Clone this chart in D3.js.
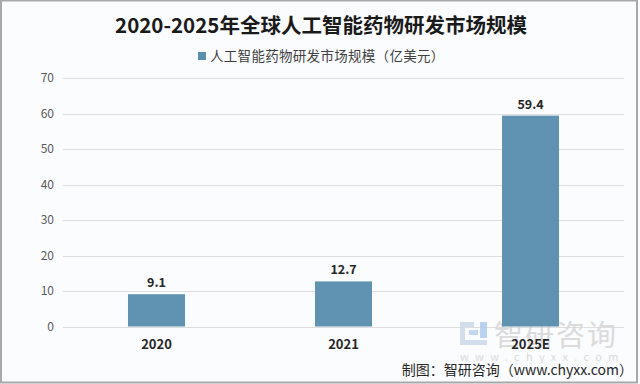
<!DOCTYPE html>
<html>
<head>
<meta charset="utf-8">
<script src="https://cdn.jsdelivr.net/npm/d3@7"></script>
<style>
html,body{margin:0;padding:0;background:#fff;}
svg{display:block;}
text{font-family:"Noto Sans CJK SC","Noto Sans",sans-serif;}
</style>
</head>
<body>
<svg id="chart" width="640" height="384"></svg>
<script>
const categories = ["2020", "2021", "2025E"];
const values = [9.1, 12.7, 59.4];
const yTicks = [0, 10, 20, 30, 40, 50, 60, 70];
const title = "2020-2025年全球人工智能药物研发市场规模";
const seriesName = "人工智能药物研发市场规模（亿美元）";
const source = "制图：智研咨询（www.chyxx.com）";

const svg = d3.select("#chart");
const W = 640, H = 384;
svg.append("rect").attr("x",0).attr("y",0).attr("width",W).attr("height",H).attr("fill","#fbfcfe");

const x = d3.scaleBand().domain(categories).range([63, 624]).paddingInner(0.695).paddingOuter(0.3475);
const y = d3.scaleLinear().domain([0, 70]).range([326.5, 78]);

// gridlines
svg.append("g").selectAll("line").data(yTicks).join("line")
  .attr("x1", 63).attr("x2", 624)
  .attr("y1", d => Math.round(y(d)) + 0.5).attr("y2", d => Math.round(y(d)) + 0.5)
  .attr("stroke", "#dedede").attr("stroke-width", 1);

// y axis labels
const yAxis = d3.axisLeft(y).tickValues(yTicks).tickSize(0).tickPadding(0);
const ya = svg.append("g").attr("transform", "translate(54,0)").call(yAxis);
ya.select(".domain").remove();
ya.selectAll("text").attr("font-size", 12).attr("fill", "#595959")
  .attr("font-family", '"Open Sans","Noto Sans",sans-serif');

// watermark (behind bars)
const wm = svg.append("g").attr("opacity", 0.85);
const lx = 460, ly = 322;
wm.append("rect").attr("x",lx).attr("y",ly).attr("width",14).attr("height",5).attr("fill","#ccd9e8");
wm.append("rect").attr("x",lx).attr("y",ly).attr("width",5).attr("height",23).attr("fill","#ccd9e8");
wm.append("rect").attr("x",lx+9).attr("y",ly+8).attr("width",9).attr("height",5).attr("fill","#b9d1ec");
wm.append("rect").attr("x",lx).attr("y",ly+18).attr("width",27).attr("height",5).attr("fill","#ccd9e8");
wm.append("rect").attr("x",lx+20).attr("y",ly).attr("width",7).attr("height",16).attr("fill","#aecbec");
wm.append("text").attr("x",494).attr("y",346).attr("font-size",29).attr("fill","#d6d6d6")
  .attr("letter-spacing", 2).text("智研咨询");
wm.append("text").attr("x",460).attr("y",361).attr("font-size",11).attr("fill","#d6d6d6")
  .attr("letter-spacing", 6.3).text("www.chyxx.com");

// bars
svg.append("g").selectAll("rect").data(values).join("rect")
  .attr("x", (d,i) => x(categories[i]))
  .attr("y", d => y(d))
  .attr("width", x.bandwidth())
  .attr("height", d => y(0) - y(d))
  .attr("fill", "#5b8fae")
  .attr("opacity", 0.97);

// value labels
svg.append("g").selectAll("text").data(values).join("text")
  .attr("x", (d,i) => x(categories[i]) + x.bandwidth()/2)
  .attr("y", d => y(d) - 7)
  .attr("text-anchor", "middle")
  .attr("font-size", 12.5).attr("font-weight", "bold").attr("fill", "#262626")
  .attr("font-family", '"Open Sans","Noto Sans",sans-serif')
  .text(d => d.toFixed(1));

// x labels
const xAxis = d3.axisBottom(x).tickSize(0).tickPadding(0);
const xa = svg.append("g").attr("transform", "translate(0,340)").call(xAxis);
xa.select(".domain").remove();
xa.selectAll("text").attr("font-size", 13).attr("font-weight", "bold").attr("fill", "#262626")
  .attr("font-family", '"Open Sans","Noto Sans",sans-serif');

// title
svg.append("text").attr("x", 321).attr("y", 33).attr("text-anchor", "middle")
  .attr("font-size", 20.5).attr("font-weight", "bold").attr("fill", "#1a1a1a").text(title);

// legend
svg.append("rect").attr("x", 198).attr("y", 52).attr("width", 8).attr("height", 8).attr("fill", "#5b8fae");
svg.append("text").attr("x", 210).attr("y", 61).attr("font-size", 13.5).attr("fill", "#404040")
  .attr("letter-spacing", 0.3).text(seriesName);

// source
svg.append("text").attr("x", 633).attr("y", 375).attr("text-anchor", "end")
  .attr("font-size", 14).attr("fill", "#262626").text(source);

// border
svg.append("rect").attr("x", 1).attr("y", 0.5).attr("width", 636).attr("height", 382)
  .attr("fill", "none").attr("stroke", "#a8a8a8").attr("stroke-width", 2);
</script>
</body>
</html>
